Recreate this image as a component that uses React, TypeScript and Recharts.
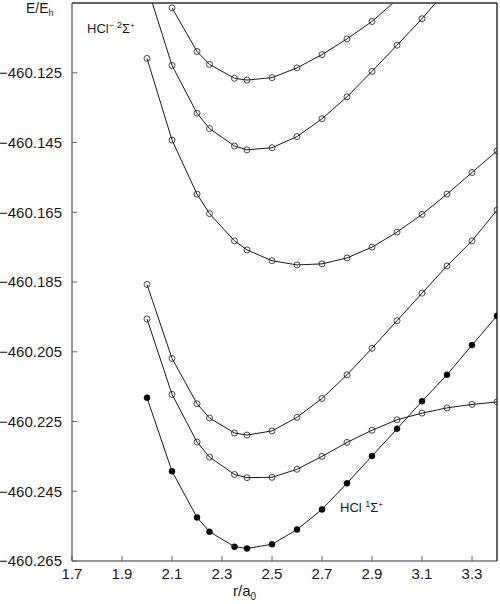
import React from 'react';
import { LineChart, Line, XAxis, YAxis, ReferenceLine } from 'recharts';

// bond length r / a0
const rFull = [2.0, 2.1, 2.2, 2.25, 2.35, 2.4, 2.5, 2.6, 2.7, 2.8, 2.9, 3.0, 3.1, 3.2, 3.3, 3.4];
const rA = [2.1, 2.2, 2.25, 2.35, 2.4, 2.5, 2.6, 2.7, 2.8, 2.9, 3.0];
const rB = [2.0, 2.1, 2.2, 2.25, 2.35, 2.4, 2.5, 2.6, 2.7, 2.8, 2.9, 3.0, 3.1, 3.2];

// energies E / Eh  (HCl- 2Sigma+ states, open circles)
const eA = [-460.1064, -460.1189, -460.1226, -460.1266, -460.1271, -460.1264, -460.1236, -460.1198, -460.1153, -460.1103, -460.104];
const eB = [-460.1001, -460.1229, -460.1366, -460.141, -460.146, -460.1471, -460.1465, -460.1433, -460.1382, -460.1319, -460.1246, -460.1171, -460.1095, -460.1012];
const eC = [-460.1209, -460.1443, -460.1598, -460.1654, -460.1732, -460.1758, -460.1789, -460.1801, -460.1798, -460.1781, -460.175, -460.1707, -460.1656, -460.1598, -460.1536, -460.1474];
const eD = [-460.1857, -460.2069, -460.2199, -460.224, -460.2283, -460.2289, -460.2277, -460.2238, -460.2184, -460.2116, -460.204, -460.1961, -460.1882, -460.1804, -460.1732, -460.1644];
const eE = [-460.1956, -460.2172, -460.2309, -460.2352, -460.2402, -460.2411, -460.241, -460.2387, -460.235, -460.231, -460.2275, -460.2245, -460.2226, -460.2211, -460.2201, -460.2194];
// HCl 1Sigma+ ground state, filled circles
const eGround = [-460.2182, -460.2393, -460.2525, -460.2566, -460.2609, -460.2614, -460.2602, -460.256, -460.2502, -460.2427, -460.2349, -460.2271, -460.2192, -460.2116, -460.2031, -460.1947];

const xTicks = [1.7, 1.9, 2.1, 2.3, 2.5, 2.7, 2.9, 3.1, 3.3];
const yTicks = [-460.265, -460.245, -460.225, -460.205, -460.185, -460.165, -460.145, -460.125];
const xDomain = [1.7, 3.4];
const yDomain = [-460.265, -460.105];

const pair = (rs: number[], es: number[]) => rs.map((r, i) => ({ r, e: es[i] }));

const FONT = '"Liberation Sans", Arial, Helvetica, sans-serif';
const INK = '#1a1a1a';

const openDot = { r: 3, stroke: INK, strokeWidth: 0.8, fill: 'none' };
const fullDot = { r: 3, stroke: '#000', strokeWidth: 0.5, fill: '#000' };

const fmtY = (v: number) => v.toFixed(3).replace('-', '\u2212');
const fmtX = (v: number) => v.toFixed(1);

const Annotations = () => (
  <svg
    width={500}
    height={604}
    style={{ position: 'absolute', left: 0, top: 0, pointerEvents: 'none' }}
  >
    <g fontFamily={FONT} fill={INK}>
      <text x={26} y={13} fontSize={14}>
        E/E<tspan fontSize={9} dy={3}>h</tspan>
      </text>
      <text x={233} y={596} fontSize={15}>
        r/a<tspan fontSize={10} dy={4}>0</tspan>
      </text>
      <text x={87} y={33} fontSize={13}>
        HCl<tspan fontSize={9} dy={-5}>{'\u2212'}</tspan>
        <tspan fontSize={9} dx={3}>2</tspan>
        <tspan fontSize={13} dy={5}>{'\u03A3'}</tspan>
        <tspan fontSize={8} dy={-5}>+</tspan>
      </text>
      <text x={340} y={512} fontSize={13}>
        HCl <tspan fontSize={9} dy={-5}>1</tspan>
        <tspan fontSize={13} dy={5}>{'\u03A3'}</tspan>
        <tspan fontSize={8} dy={-5}>+</tspan>
      </text>
    </g>
  </svg>
);

// the ground state uses the mirrored (top/right) axes, which share the same domains
const series = [
  { id: 'A', data: pair(rA, eA), dot: openDot, xId: 'b', yId: 'l' },
  { id: 'B', data: pair(rB, eB), dot: openDot, xId: 'b', yId: 'l' },
  { id: 'C', data: pair(rFull, eC), dot: openDot, xId: 'b', yId: 'l' },
  { id: 'D', data: pair(rFull, eD), dot: openDot, xId: 'b', yId: 'l' },
  { id: 'E', data: pair(rFull, eE), dot: openDot, xId: 'b', yId: 'l' },
  { id: 'G', data: pair(rFull, eGround), dot: fullDot, xId: 't', yId: 'rt' },
];

export default function App() {
  return (
    <div style={{ position: 'absolute', left: 0, top: 0, width: 500, height: 604, background: '#fff' }}>
      <LineChart width={500} height={604} margin={{ top: -17, right: -17, left: 0, bottom: 0 }}>
        <XAxis
          xAxisId="b"
          dataKey="r"
          type="number"
          domain={xDomain}
          ticks={xTicks}
          allowDataOverflow
          height={43}
          tickSize={-5}
          tickMargin={12}
          tickFormatter={fmtX}
          stroke="#333"
          tickLine={{ stroke: '#666' }}
          tick={{ fill: INK, fontSize: 15, fontFamily: FONT }}
        />
        <XAxis
          xAxisId="t"
          orientation="top"
          dataKey="r"
          type="number"
          domain={xDomain}
          ticks={xTicks}
          allowDataOverflow
          height={20}
          tickSize={-5}
          stroke="#333"
          tickLine={{ stroke: '#666' }}
          tick={false}
        />
        <YAxis
          yAxisId="l"
          dataKey="e"
          type="number"
          domain={yDomain}
          ticks={yTicks}
          allowDataOverflow
          width={72}
          tickSize={-5}
          tickMargin={15}
          tickFormatter={fmtY}
          stroke="#333"
          tickLine={{ stroke: '#666' }}
          tick={{ fill: INK, fontSize: 15, fontFamily: FONT }}
        />
        <YAxis
          yAxisId="rt"
          orientation="right"
          dataKey="e"
          type="number"
          domain={yDomain}
          ticks={yTicks}
          allowDataOverflow
          width={20}
          tickSize={-5}
          stroke="#333"
          tickLine={{ stroke: '#666' }}
          tick={false}
        />
        <ReferenceLine xAxisId="b" yAxisId="l" y={yDomain[1]} stroke="#333" />
        <ReferenceLine xAxisId="b" yAxisId="l" x={xDomain[1]} stroke="#333" />
        {series.map((s) => (
          <Line
            key={s.id}
            xAxisId={s.xId}
            yAxisId={s.yId}
            data={s.data}
            dataKey="e"
            type="linear"
            stroke={INK}
            strokeWidth={1}
            dot={s.dot}
            activeDot={false}
            isAnimationActive={false}
          />
        ))}
      </LineChart>
      <Annotations />
    </div>
  );
}
